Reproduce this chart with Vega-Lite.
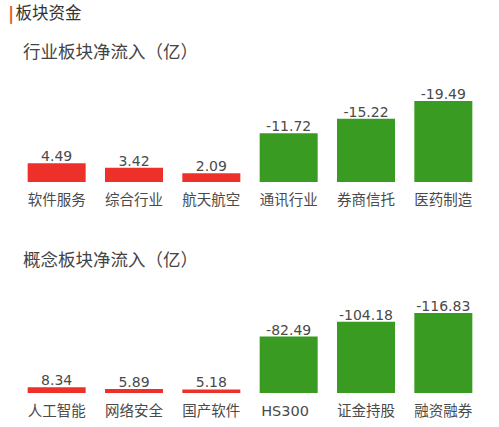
{
  "$schema": "https://vega.github.io/schema/vega-lite/v6.json",
  "padding": {"left": 8, "top": 5, "right": 0, "bottom": 0},
  "background": "white",
  "datasets": {
    "hy": [
      {"name": "软件服务", "net": "4.49", "amount": 4.49, "flow": "in"},
      {"name": "综合行业", "net": "3.42", "amount": 3.42, "flow": "in"},
      {"name": "航天航空", "net": "2.09", "amount": 2.09, "flow": "in"},
      {"name": "通讯行业", "net": "-11.72", "amount": 11.72, "flow": "out"},
      {"name": "券商信托", "net": "-15.22", "amount": 15.22, "flow": "out"},
      {"name": "医药制造", "net": "-19.49", "amount": 19.49, "flow": "out"}
    ],
    "gn": [
      {"name": "人工智能", "net": "8.34", "amount": 8.34, "flow": "in"},
      {"name": "网络安全", "net": "5.89", "amount": 5.89, "flow": "in"},
      {"name": "国产软件", "net": "5.18", "amount": 5.18, "flow": "in"},
      {"name": "HS300_", "net": "-82.49", "amount": 82.49, "flow": "out"},
      {"name": "证金持股", "net": "-104.18", "amount": 104.18, "flow": "out"},
      {"name": "融资融券", "net": "-116.83", "amount": 116.83, "flow": "out"}
    ]
  },
  "title": {
    "text": "|",
    "font": "DejaVu Sans",
    "fontSize": 17,
    "fontWeight": "bold",
    "color": "#e0602e",
    "anchor": "start",
    "dx": -10,
    "subtitle": "\u200b\u00a0\u00a0板块资金",
    "subtitleFont": "Noto Sans CJK SC",
    "subtitleFontSize": 16.5,
    "subtitleColor": "#333333",
    "subtitlePadding": -18,
    "offset": 20
  },
  "config": {
    "view": {"stroke": null},
    "concat": {"spacing": 44}
  },
  "vconcat": [
    {
      "title": {"text": "行业板块净流入（亿）", "anchor": "start", "dx": 5, "font": "Noto Sans CJK SC", "fontSize": 17.5, "fontWeight": "normal", "color": "#444444", "offset": 27},
      "width": 464,
      "height": 81,
      "data": {"name": "hy"},
      "encoding": {
        "x": {"field": "name", "type": "nominal", "sort": null,
          "scale": {"paddingInner": 0.25, "paddingOuter": 0.125},
          "axis": {"title": null, "domain": false, "ticks": false, "tickSize": 0, "labelAngle": 0, "labelPadding": 11, "labelFontSize": 14.5, "labelColor": "#4a4a4a", "labelFont": "DejaVu Sans, Noto Sans CJK SC"}},
        "y": {"field": "amount", "type": "quantitative", "scale": {"nice": false, "zero": true}, "axis": null}
      },
      "layer": [
        {"mark": {"type": "bar"}, "encoding": {"color": {"field": "flow", "type": "nominal", "scale": {"domain": ["in", "out"], "range": ["#ee302b", "#3a9b22"]}, "legend": null}}},
        {"mark": {"type": "text", "baseline": "alphabetic", "dy": -2, "fontSize": 14, "font": "DejaVu Sans", "color": "#4a4a4a"}, "encoding": {"text": {"field": "net", "type": "nominal"}}}
      ]
    },
    {
      "title": {"text": "概念板块净流入（亿）", "anchor": "start", "dx": 5, "font": "Noto Sans CJK SC", "fontSize": 17.5, "fontWeight": "normal", "color": "#444444", "offset": 31},
      "width": 464,
      "height": 80,
      "data": {"name": "gn"},
      "encoding": {
        "x": {"field": "name", "type": "nominal", "sort": null,
          "scale": {"paddingInner": 0.25, "paddingOuter": 0.125},
          "axis": {"title": null, "domain": false, "ticks": false, "tickSize": 0, "labelAngle": 0, "labelPadding": 11, "labelFontSize": 14.5, "labelColor": "#4a4a4a", "labelFont": "DejaVu Sans, Noto Sans CJK SC"}},
        "y": {"field": "amount", "type": "quantitative", "scale": {"nice": false, "zero": true}, "axis": null}
      },
      "layer": [
        {"mark": {"type": "bar"}, "encoding": {"color": {"field": "flow", "type": "nominal", "scale": {"domain": ["in", "out"], "range": ["#ee302b", "#3a9b22"]}, "legend": null}}},
        {"mark": {"type": "text", "baseline": "alphabetic", "dy": -2, "fontSize": 14, "font": "DejaVu Sans", "color": "#4a4a4a"}, "encoding": {"text": {"field": "net", "type": "nominal"}}}
      ]
    }
  ]
}
